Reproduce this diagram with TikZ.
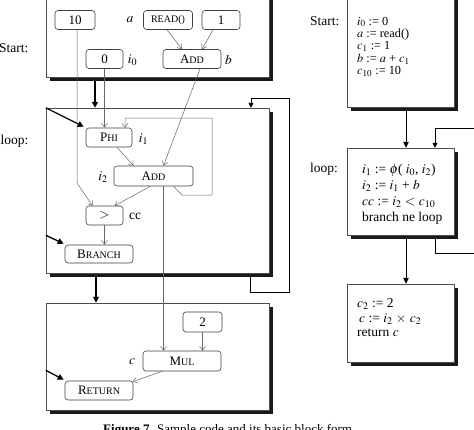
\documentclass[tikz,border=0pt]{standalone}
\usepackage{mathptmx}
\usepackage{fontspec}
\setmainfont{Liberation Serif}
\usetikzlibrary{arrows.meta,shadows}
\newcommand\fsc[2]{#1{\fontsize{10}{12}\selectfont #2}}
\newcommand\allsc[1]{{\fontsize{10}{12}\selectfont #1}}
\begin{document}
\begin{tikzpicture}[x=1pt,y=-1pt,
  font=\fontsize{13.5}{15}\selectfont,
  op/.style={draw=black!75, line width=0.6pt, rounded corners=3pt,
    minimum height=19pt, inner sep=1pt, fill=white, font=\fontsize{13}{15}\selectfont},
  blk/.style={draw=black!70, line width=0.5pt, fill=white, inner sep=0pt,
    drop shadow={shadow xshift=4pt, shadow yshift=-4pt, fill=black!90, opacity=1}},
  lbl/.style={inner sep=0pt},
  txt/.style={inner sep=0pt, anchor=base west},
  codebox/.style={inner sep=0pt, anchor=north west, align=left},
  thinarr/.style={draw=black!60, line width=0.5pt, -{Straight Barb[length=4pt,width=6pt]}},
  thickarr/.style={draw=black, line width=1.3pt, -{Triangle[length=6pt,width=6pt]}},
  backarr/.style={draw=black, line width=0.8pt, -{Triangle[length=5pt,width=5pt]}},
  blockarr/.style={draw=black, line width=0.8pt, -{Triangle[length=6pt,width=5.5pt]}}
]
\useasboundingbox (0,0) rectangle (474,429);

% ---------- left column: blocks ----------
\node[blk, minimum width=223pt, minimum height=87pt] (B1) at (157.5,33.5) {};
\node[blk, minimum width=223pt, minimum height=165pt] (B2) at (157.5,190.5) {};
\node[blk, minimum width=223pt, minimum height=107pt] (B3) at (157.5,356.5) {};

\node[lbl, anchor=base east] (lstart) at (28.5,52.5) {Start:};
\node[lbl, anchor=base west] (lloop) at (0.5,144.5) {loop:};

% start block nodes
\node[op, minimum width=40pt] (n10) at (75,20) {10};
\node[op, minimum width=49pt] (read) at (168,20) {\allsc{READ()}};
\node[op, minimum width=38pt] (one) at (221,20) {1};
\node[op, minimum width=37pt] (zero) at (104.5,59) {0};
\node[op, minimum width=58pt] (add1) at (192,59) {\fsc{A}{DD}};
\node[lbl] (la) at (130,20) {$a$};
\node[lbl] (li0) at (132.5,60) {$i_0$};
\node[lbl] (lb) at (228.5,60) {$b$};

% loop block nodes
\node[op, minimum width=46pt] (phi) at (109,137.5) {\fsc{P}{HI}};
\node[op, minimum width=79pt, minimum height=20pt] (add2) at (153.5,176) {\fsc{A}{DD}};
\node[op, minimum width=37pt] (gt) at (104.5,215.5) {$>$};
\node[op, minimum width=68pt, minimum height=18pt] (branch) at (99,254) {\fsc{B}{RANCH}};
\node[lbl] (li1) at (143.5,139) {$i_1$};
\node[lbl] (li2) at (103,177) {$i_2$};
\node[lbl] (lcc) at (135,216) {cc};

% return block nodes
\node[op, minimum width=39pt, minimum height=20pt] (two) at (202.5,322) {2};
\node[op, minimum width=78pt, minimum height=20pt] (mul) at (182,361) {\fsc{M}{UL}};
\node[op, minimum width=68pt] (ret) at (99,390.5) {\fsc{R}{ETURN}};
\node[lbl] (lc) at (132,362) {$c$};

% ---------- left column: data edges ----------
\draw[thinarr] ([xshift=-1pt]read.south) -- ([xshift=-10pt]add1.north);
\draw[thinarr] ([xshift=-8pt]one.south) -- ([xshift=10pt]add1.north);
\coordinate (k1) at (77,183);
\draw[thinarr] ([xshift=2pt]n10.south) -- (k1) -- ([xshift=-12pt]gt.north);
\draw[thinarr] (zero.south) -- (zero.south |- phi.north);
\draw[thinarr] ([xshift=8pt]add1.south) -- ([xshift=10pt]add2.north);
\draw[thinarr] ([xshift=8pt]phi.south) -- ([xshift=-20pt]add2.north);
\draw[thinarr] ([xshift=-3pt]add2.south) -- ([xshift=10pt]gt.north);
\coordinate (fbA) at (182,195);
\coordinate (fbB) at (212,118);
\draw[thinarr] ([xshift=20pt]add2.south) -- (fbA) -| (fbB) -| ([xshift=16pt]phi.north);
\draw[thinarr] (gt.south) -- (gt.south |- branch.north);
\draw[thinarr] ([xshift=10pt]add2.south) -- ([xshift=10pt]add2.south |- mul.north);
\draw[thinarr] (two.south) -- (two.south |- mul.north);
\draw[thinarr] ([xshift=-20pt]mul.south) -- ([xshift=-0.5pt,yshift=-1pt]ret.north east);

% ---------- left column: control edges ----------
\draw[thickarr] ([xshift=-62.5pt,yshift=-4pt]B1.south) -- ([xshift=-62.5pt]B2.north);
\draw[thickarr] ([xshift=-61.5pt,yshift=-4pt]B2.south) -- ([xshift=-61.5pt]B3.north);
\draw[thickarr] (B2.north west) -- ([xshift=-2pt,yshift=1pt]phi.north west);
\draw[thickarr] ([yshift=38pt]B2.south west) -- ([xshift=-1pt,yshift=1pt]branch.north west);
\draw[thickarr] ([yshift=40pt]B3.south west) -- ([xshift=-1pt,yshift=1pt]ret.north west);
\coordinate (lbA) at (289,292);
\coordinate (lbB) at (251,98);
\draw[backarr] ([xshift=92.5pt,yshift=-4pt]B2.south) |- (lbA) |- (lbB) -- (lbB |- B2.north);

% ---------- right column ----------
\node[blk, minimum width=107pt, minimum height=117pt] (R1) at (400.5,48.5) {};
\node[blk, minimum width=107pt, minimum height=87pt] (R2) at (400.5,191.5) {};
\node[blk, minimum width=107pt, minimum height=78pt] (R3) at (400.5,323) {};

\node[lbl, anchor=base west] (rstart) at (310,25.5) {Start:};
\node[lbl, anchor=base west] (rloop) at (310,172.5) {loop:};

\node[codebox, font=\fontsize{12.3}{12.4}\selectfont] (scode) at (357,16.7)
  {$i_0$ := 0\\ $a$ := read()\\ $c_1$ := 1\\ $b$ := $a$ + $c_1$\\ $c_{10}$ := 10};

\node[codebox, font=\fontsize{13.5}{16}\selectfont] (lcode) at (362,163.5)
  {$i_1$ := $\phi$( $i_0$, $i_2$)\\ $i_2$ := $i_1$ + $b$\\ $cc$ := $i_2$ $<$ $c_{10}$\\ branch ne loop};

\node[codebox, font=\fontsize{13.5}{14.5}\selectfont] (rcode) at (357,298.5)
  {$c_2$ := 2\\ \hspace{2pt}$c$ := $i_2$ $\times$ $c_2$\\ return $c$};

\draw[blockarr] ([xshift=5.5pt,yshift=-4pt]R1.south) -- ([xshift=5.5pt]R1.south |- R2.north);
\draw[blockarr] ([xshift=5.5pt,yshift=-4pt]R2.south) -- ([xshift=5.5pt]R2.south |- R3.north);
\coordinate (rbA) at (476,253);
\coordinate (rbB) at (476,128);
\draw[draw=black, line width=0.8pt] ([xshift=34.5pt,yshift=-4pt]R2.south) |- (rbA);
\draw[backarr] (rbB) -| ([xshift=34.5pt]R2.north);

% ---------- caption (cut off by the page edge) ----------
\begin{scope}
\clip (0,0) rectangle (474,429);
\node[txt, font=\fontsize{13}{15}\selectfont] (cap) at (103,433) {\textbf{Figure 7.} Sample code and its basic block form};
\end{scope}
\end{tikzpicture}
\end{document}
